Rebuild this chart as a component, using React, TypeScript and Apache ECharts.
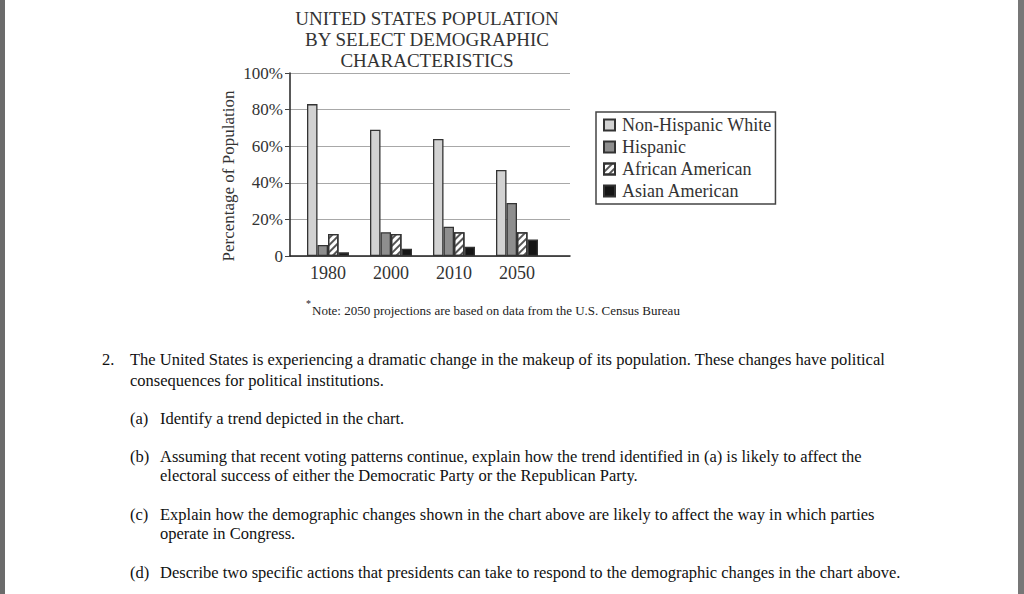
import React, { useEffect, useRef } from "react";
import * as echarts from "echarts";

const categories = ["1980", "2000", "2010", "2050"];
const nonHispanicWhite = [83, 69, 64, 47];
const hispanic = [6, 13, 16, 29];
const africanAmerican = [12, 12, 13, 13];
const asianAmerican = [2, 4, 5, 9];
const seriesNames = ["Non-Hispanic White", "Hispanic", "African American", "Asian American"];
const yTickValues = [0, 20, 40, 60, 80, 100];

const titleLines = ["UNITED STATES POPULATION", "BY SELECT DEMOGRAPHIC", "CHARACTERISTICS"];
const yAxisTitle = "Percentage of Population";
const noteText = "Note: 2050 projections are based on data from the U.S. Census Bureau";
const questionLines: [string, string, number, number][] = [
  ["2.", "The United States is experiencing a dramatic change in the makeup of its population. These changes have political", 359, 130],
  ["", "consequences for political institutions.", 380, 130],
  ["(a)", "Identify a trend depicted in the chart.", 418, 160],
  ["(b)", "Assuming that recent voting patterns continue, explain how the trend identified in (a) is likely to affect the", 456, 160],
  ["", "electoral success of either the Democratic Party or the Republican Party.", 475, 160],
  ["(c)", "Explain how the demographic changes shown in the chart above are likely to affect the way in which parties", 514, 160],
  ["", "operate in Congress.", 533, 160],
  ["(d)", "Describe two specific actions that presidents can take to respond to the demographic changes in the chart above.", 572, 160],
];

const SERIF = "'Liberation Serif', 'Times New Roman', serif";

export default function App() {
  const ref = useRef<HTMLDivElement>(null);
  useEffect(() => {
    if (!ref.current) return;
    const chart = echarts.init(ref.current, undefined, { renderer: "svg" });
    const graphic: any[] = [];
    graphic.push({ type: "rect", shape: { x: 0, y: 0, width: 5, height: 594 }, style: { fill: "#6b6b6b" } });
    graphic.push({ type: "rect", shape: { x: 1018, y: 0, width: 6, height: 594 }, style: { fill: "#777777" } });
    titleLines.forEach((t, i) => {
      graphic.push({
        type: "text",
        x: 427,
        y: 18 + i * 21,
        style: { text: t, fontSize: 19, fontFamily: SERIF, fill: "#333", textAlign: "center", textVerticalAlign: "middle" },
      });
    });
    graphic.push({
      type: "text",
      x: 228,
      y: 176,
      rotation: Math.PI / 2,
      style: { text: yAxisTitle, fontSize: 17, fontFamily: SERIF, fill: "#333", textAlign: "center", textVerticalAlign: "middle" },
    });
    graphic.push({
      type: "text",
      x: 306,
      y: 303,
      style: { text: "*", fontSize: 10, fontFamily: SERIF, fill: "#222", textAlign: "left", textVerticalAlign: "middle" },
    });
    graphic.push({
      type: "text",
      x: 312,
      y: 310,
      style: { text: noteText, fontSize: 13, fontFamily: SERIF, fill: "#222", textAlign: "left", textVerticalAlign: "middle" },
    });
    questionLines.forEach(([label, text, y, x]) => {
      if (label) {
        graphic.push({
          type: "text",
          x: label === "2." ? 102 : 130,
          y,
          style: { text: label, fontSize: 16.5, fontFamily: SERIF, fill: "#111", textAlign: "left", textVerticalAlign: "middle" },
        });
      }
      graphic.push({
        type: "text",
        x,
        y,
        style: { text, fontSize: 16.5, fontFamily: SERIF, fill: "#111", textAlign: "left", textVerticalAlign: "middle" },
      });
    });

    const barBase = { type: "bar", xAxisIndex: 1, yAxisIndex: 1, barWidth: 10.5, barGap: "0%" };
    const border = { borderColor: "#333", borderWidth: 1.3 };

    chart.setOption({
      animation: false,
      backgroundColor: "#ffffff",
      textStyle: { fontFamily: SERIF },
      graphic,
      legend: {
        orient: "vertical",
        left: 596,
        top: 112,
        data: seriesNames,
        icon: "rect",
        itemWidth: 11,
        itemHeight: 11,
        itemGap: 4,
        padding: [4, 4, 4, 7],
        borderColor: "#444",
        borderWidth: 1.5,
        textStyle: { fontSize: 18, fontFamily: SERIF, color: "#333", padding: [0, 0, 0, 2] },
      },
      grid: [
        { left: 290, top: 73, width: 280, height: 183 },
        { left: 296.5, top: 73, width: 252, height: 183 },
      ],
      xAxis: [
        {
          type: "value",
          gridIndex: 0,
          min: 0,
          max: 1,
          axisLine: { show: true, onZero: false, lineStyle: { color: "#222", width: 1.5 } },
          axisTick: { show: false },
          axisLabel: { show: false },
          splitLine: { show: false },
        },
        {
          type: "category",
          gridIndex: 1,
          data: categories,
          axisLine: { show: false },
          axisTick: { show: false },
          axisLabel: { fontSize: 18, fontFamily: SERIF, color: "#333", margin: 8 },
        },
      ],
      yAxis: [
        {
          type: "value",
          gridIndex: 0,
          min: 0,
          max: 100,
          interval: 20,
          axisLine: { show: true, lineStyle: { color: "#222", width: 1.5 } },
          axisTick: { show: true, length: 5, lineStyle: { color: "#444" } },
          axisLabel: {
            fontSize: 17,
            fontFamily: SERIF,
            color: "#333",
            margin: 7,
            formatter: (v: number) => (yTickValues.includes(v) ? (v === 0 ? "0" : v + "%") : ""),
          },
          splitLine: { show: true, lineStyle: { color: "#a8a8a8", width: 1.2 } },
        },
        { type: "value", gridIndex: 1, min: 0, max: 100, show: false },
      ],
      series: [
        { ...barBase, name: seriesNames[0], data: nonHispanicWhite, itemStyle: { color: "#d2d2d2", ...border } },
        { ...barBase, name: seriesNames[1], data: hispanic, itemStyle: { color: "#8e8e8e", ...border } },
        {
          ...barBase,
          name: seriesNames[2],
          data: africanAmerican,
          itemStyle: {
            color: "#ffffff",
            ...border,
            decal: {
              symbol: "rect",
              symbolSize: 1,
              color: "#555",
              dashArrayX: [1, 0],
              dashArrayY: [2, 3],
              rotation: -Math.PI / 4,
            },
          },
        },
        { ...barBase, name: seriesNames[3], data: asianAmerican, itemStyle: { color: "#151515", ...border } },
      ],
    });
    return () => chart.dispose();
  }, []);
  return <div ref={ref} style={{ position: "absolute", left: 0, top: 0, width: 1024, height: 594 }} />;
}
